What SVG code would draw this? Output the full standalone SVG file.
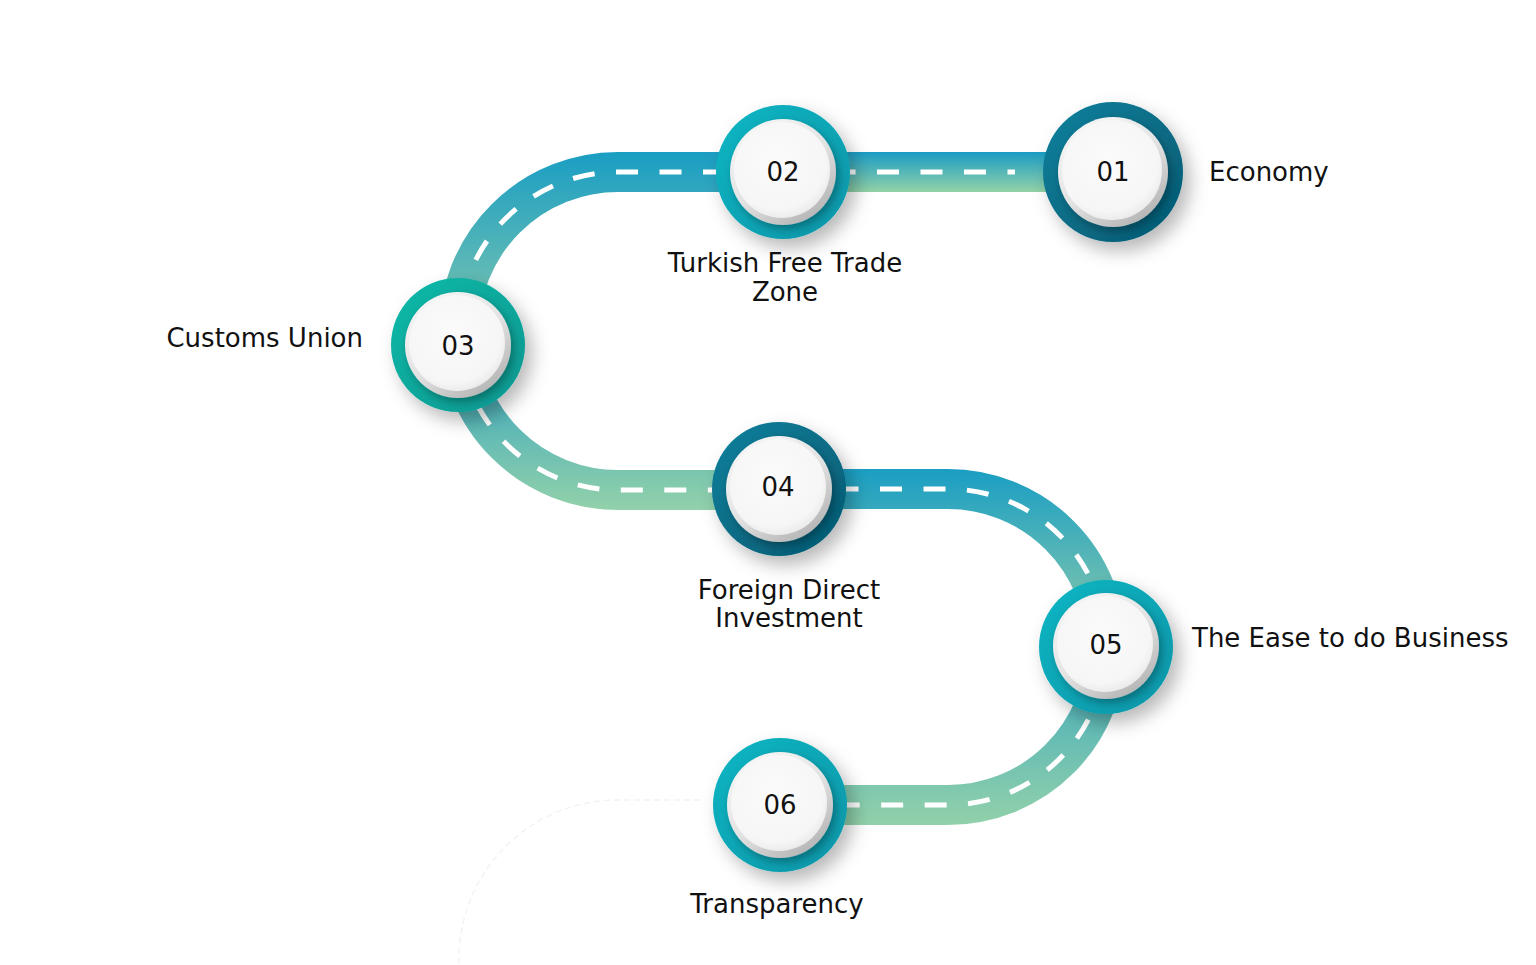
<svg xmlns="http://www.w3.org/2000/svg" width="1536" height="965" viewBox="0 0 1536 965">
<defs>
<style>
.lbl{font-family:"DejaVu Sans","Verdana",sans-serif;font-size:26px;fill:#111}
.num{font-family:"DejaVu Sans","Verdana",sans-serif;font-size:26px;fill:#111;text-anchor:middle}
.road{fill:none;stroke-width:40}
.dash{fill:none;stroke:#fff;stroke-width:5;stroke-dasharray:22 21.5}
.face{fill:url(#faceG)}
.rim{fill:url(#rimG)}
</style>
<linearGradient id="r21" gradientUnits="userSpaceOnUse" x1="0" y1="152" x2="0" y2="192"><stop offset="0" stop-color="#1a9cc4"/><stop offset="1" stop-color="#93d2a8"/></linearGradient>
<linearGradient id="r32" gradientUnits="userSpaceOnUse" x1="0" y1="152" x2="0" y2="300"><stop offset="0" stop-color="#1a9ec3"/><stop offset="1" stop-color="#6ebfb2"/></linearGradient>
<linearGradient id="r34" gradientUnits="userSpaceOnUse" x1="0" y1="390" x2="0" y2="510"><stop offset="0" stop-color="#48aebb"/><stop offset="1" stop-color="#92d1aa"/></linearGradient>
<linearGradient id="r45" gradientUnits="userSpaceOnUse" x1="0" y1="469" x2="0" y2="600"><stop offset="0" stop-color="#1a9ec3"/><stop offset="1" stop-color="#73c1b1"/></linearGradient>
<linearGradient id="r56" gradientUnits="userSpaceOnUse" x1="0" y1="700" x2="0" y2="825"><stop offset="0" stop-color="#55b4b8"/><stop offset="1" stop-color="#92d1aa"/></linearGradient>
<linearGradient id="gDark" x1="0" y1="0" x2="1" y2="1"><stop offset="0" stop-color="#0b819d"/><stop offset="1" stop-color="#055870"/></linearGradient>
<linearGradient id="gCyan" x1="0" y1="0" x2="1" y2="1"><stop offset="0" stop-color="#0bb6c3"/><stop offset="1" stop-color="#0795a8"/></linearGradient>
<linearGradient id="gTeal" x1="0" y1="0" x2="1" y2="1"><stop offset="0" stop-color="#0abaa9"/><stop offset="1" stop-color="#07968f"/></linearGradient>
<linearGradient id="rimG" x1="0.2" y1="0.1" x2="0.8" y2="0.95"><stop offset="0" stop-color="#f4f4f4"/><stop offset="0.5" stop-color="#e2e2e2"/><stop offset="1" stop-color="#b4b4b4"/></linearGradient>
<radialGradient id="faceG" cx="0.45" cy="0.4" r="0.6"><stop offset="0" stop-color="#fbfbfb"/><stop offset="0.85" stop-color="#f6f6f6"/><stop offset="1" stop-color="#ececec"/></radialGradient>
<filter id="sh" x="-40%" y="-40%" width="190%" height="190%"><feDropShadow dx="7" dy="9" stdDeviation="9" flood-color="#000" flood-opacity="0.28"/></filter>
<filter id="ish" x="-30%" y="-30%" width="170%" height="170%"><feDropShadow dx="3" dy="4" stdDeviation="4" flood-color="#000" flood-opacity="0.3"/></filter>
</defs>
<rect width="1536" height="965" fill="#fff"/>

<g id="connectors">
  <path d="M700 800 H618 A159 159 0 0 0 459 965" fill="none" stroke="#f3f3f3" stroke-width="1.5" stroke-dasharray="6 4"/>
  <path class="road" stroke="url(#r21)" d="M783 172 H1113"/>
  <path class="road" stroke="url(#r32)" d="M783 172 H618 A159 159 0 0 0 459 331"/>
  <path class="road" stroke="url(#r34)" d="M459 331 A159 159 0 0 0 618 490 H779"/>
  <path class="road" stroke="url(#r45)" d="M779 489 H948 A158 158 0 0 1 1106 647"/>
  <path class="road" stroke="url(#r56)" d="M1106 647 A158 158 0 0 1 948 805 H780"/>
  <path class="dash" d="M790 172 H1015"/>
  <path class="dash" stroke-dashoffset="29" d="M783 172 H618 A159 159 0 0 0 618 490 H779"/>
  <path class="dash" stroke-dashoffset="29.5" d="M779 489 H948 A158 158 0 0 1 948 805 H780"/>
</g>

<g id="node01">
  <circle cx="1113" cy="172" r="70" fill="url(#gDark)" filter="url(#sh)"/>
  <g filter="url(#ish)"><circle class="rim" cx="1113" cy="172" r="55"/><circle class="face" cx="1112" cy="170" r="50"/></g>
  <text class="num" x="1113" y="181">01</text>
  <text class="lbl" x="1209" y="181">Economy</text>
</g>
<g id="node02">
  <circle cx="783" cy="172" r="67" fill="url(#gCyan)" filter="url(#sh)"/>
  <g filter="url(#ish)"><circle class="rim" cx="783" cy="172" r="53"/><circle class="face" cx="782" cy="170" r="48"/></g>
  <text class="num" x="783" y="181">02</text>
  <text class="lbl" x="785" y="272" text-anchor="middle">Turkish Free Trade</text>
  <text class="lbl" x="785" y="301" text-anchor="middle">Zone</text>
</g>
<g id="node03">
  <circle cx="458" cy="345" r="67" fill="url(#gTeal)" filter="url(#sh)"/>
  <g filter="url(#ish)"><circle class="rim" cx="458" cy="345" r="53"/><circle class="face" cx="457" cy="343" r="48"/></g>
  <text class="num" x="458" y="355">03</text>
  <text class="lbl" x="363" y="347" text-anchor="end">Customs Union</text>
</g>
<g id="node04">
  <circle cx="779" cy="489" r="67" fill="url(#gDark)" filter="url(#sh)"/>
  <g filter="url(#ish)"><circle class="rim" cx="779" cy="489" r="53"/><circle class="face" cx="778" cy="487" r="48"/></g>
  <text class="num" x="778" y="496">04</text>
  <text class="lbl" x="789" y="599" text-anchor="middle">Foreign Direct</text>
  <text class="lbl" x="789" y="627" text-anchor="middle">Investment</text>
</g>
<g id="node05">
  <circle cx="1106" cy="647" r="67" fill="url(#gCyan)" filter="url(#sh)"/>
  <g filter="url(#ish)"><circle class="rim" cx="1106" cy="646" r="53"/><circle class="face" cx="1105" cy="644" r="48"/></g>
  <text class="num" x="1106" y="654">05</text>
  <text class="lbl" x="1192" y="647">The Ease to do Business</text>
</g>
<g id="node06">
  <circle cx="780" cy="805" r="67" fill="url(#gCyan)" filter="url(#sh)"/>
  <g filter="url(#ish)"><circle class="rim" cx="780" cy="805" r="53"/><circle class="face" cx="779" cy="803" r="48"/></g>
  <text class="num" x="780" y="814">06</text>
  <text class="lbl" x="777" y="913" text-anchor="middle">Transparency</text>
</g>
</svg>
